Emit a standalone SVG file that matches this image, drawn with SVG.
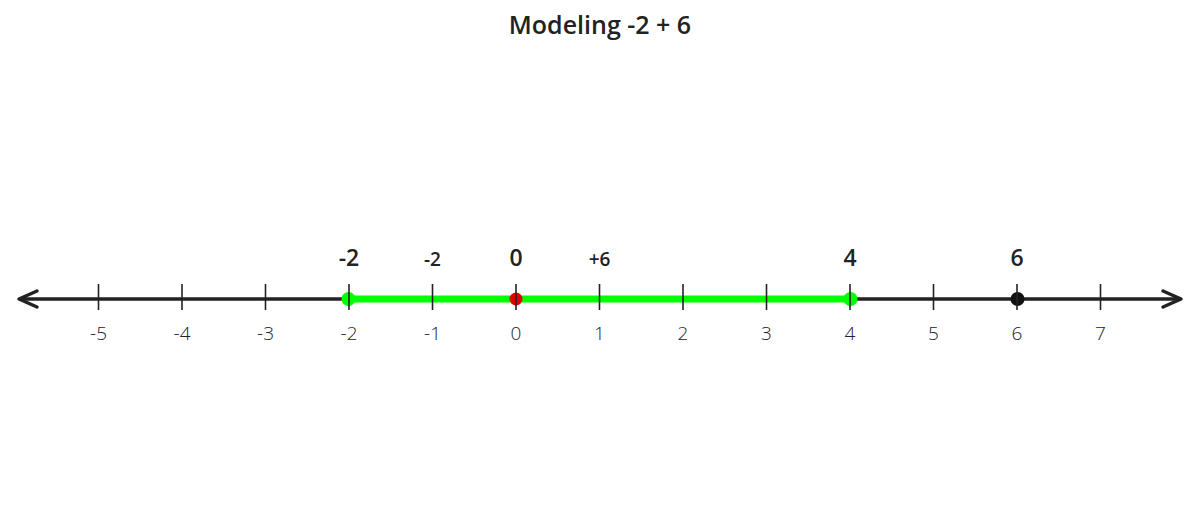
<svg xmlns="http://www.w3.org/2000/svg" width="1200" height="530" viewBox="0 0 1200 530">
<style>
.axis{stroke:#222;stroke-width:3.5;fill:none;stroke-linecap:round;stroke-linejoin:round}
.tick{stroke:#222;stroke-width:1.6}
.num{font-family:"Open Sans","Liberation Sans",sans-serif;font-weight:300;font-size:19px;fill:#222;text-anchor:middle}
.big{font-family:"Open Sans","Liberation Sans",sans-serif;font-weight:600;font-size:23px;fill:#222;text-anchor:middle}
.small{font-family:"Open Sans","Liberation Sans",sans-serif;font-weight:600;font-size:19px;fill:#222;text-anchor:middle}
.title{font-family:"Open Sans","Liberation Sans",sans-serif;font-weight:600;font-size:25px;fill:#222;text-anchor:middle}
</style>
<rect width="1200" height="530" fill="#fff"/>
<text class="title" x="600" y="34">Modeling -2 + 6</text>
<g id="connectors">
<line class="axis" x1="20" y1="299" x2="1180" y2="299"/>
<polyline class="axis" points="37,291 19,299 37,307"/>
<polyline class="axis" points="1163,291 1181,299 1163,307"/>
<line x1="348.5" y1="299" x2="850.5" y2="299" stroke="#00ff00" stroke-width="7"/>
</g>
<g id="dots">
<circle cx="348.5" cy="299" r="7" fill="#00ff00"/>
<circle cx="850.5" cy="299" r="7" fill="#00ff00"/>
<circle cx="516" cy="299" r="6.5" fill="#e00000"/>
<circle cx="1017.5" cy="299" r="7" fill="#111"/>
</g>
<g id="ticks">
<line class="tick" x1="98.5" y1="284" x2="98.5" y2="310"/>
<line class="tick" x1="182" y1="284" x2="182" y2="310"/>
<line class="tick" x1="265.5" y1="284" x2="265.5" y2="310"/>
<line class="tick" x1="349" y1="284" x2="349" y2="310"/>
<line class="tick" x1="432.5" y1="284" x2="432.5" y2="310"/>
<line class="tick" x1="516" y1="284" x2="516" y2="310"/>
<line class="tick" x1="599.5" y1="284" x2="599.5" y2="310"/>
<line class="tick" x1="683" y1="284" x2="683" y2="310"/>
<line class="tick" x1="766.5" y1="284" x2="766.5" y2="310"/>
<line class="tick" x1="850" y1="284" x2="850" y2="310"/>
<line class="tick" x1="933.5" y1="284" x2="933.5" y2="310"/>
<line class="tick" x1="1017" y1="284" x2="1017" y2="310"/>
<line class="tick" x1="1100.5" y1="284" x2="1100.5" y2="310"/>
</g>
<g id="tick-labels">
<text class="num" x="98.5" y="340">-5</text>
<text class="num" x="182" y="340">-4</text>
<text class="num" x="265.5" y="340">-3</text>
<text class="num" x="349" y="340">-2</text>
<text class="num" x="432.5" y="340">-1</text>
<text class="num" x="516" y="340">0</text>
<text class="num" x="599.5" y="340">1</text>
<text class="num" x="683" y="340">2</text>
<text class="num" x="766.5" y="340">3</text>
<text class="num" x="850" y="340">4</text>
<text class="num" x="933.5" y="340">5</text>
<text class="num" x="1017" y="340">6</text>
<text class="num" x="1100.5" y="340">7</text>
</g>
<g id="point-labels">
<text class="big" x="349" y="266">-2</text>
<text class="small" x="432.5" y="266">-2</text>
<text class="big" x="516" y="266">0</text>
<text class="small" x="599.5" y="266">+6</text>
<text class="big" x="850" y="266">4</text>
<text class="big" x="1017" y="266">6</text>
</g>
</svg>
